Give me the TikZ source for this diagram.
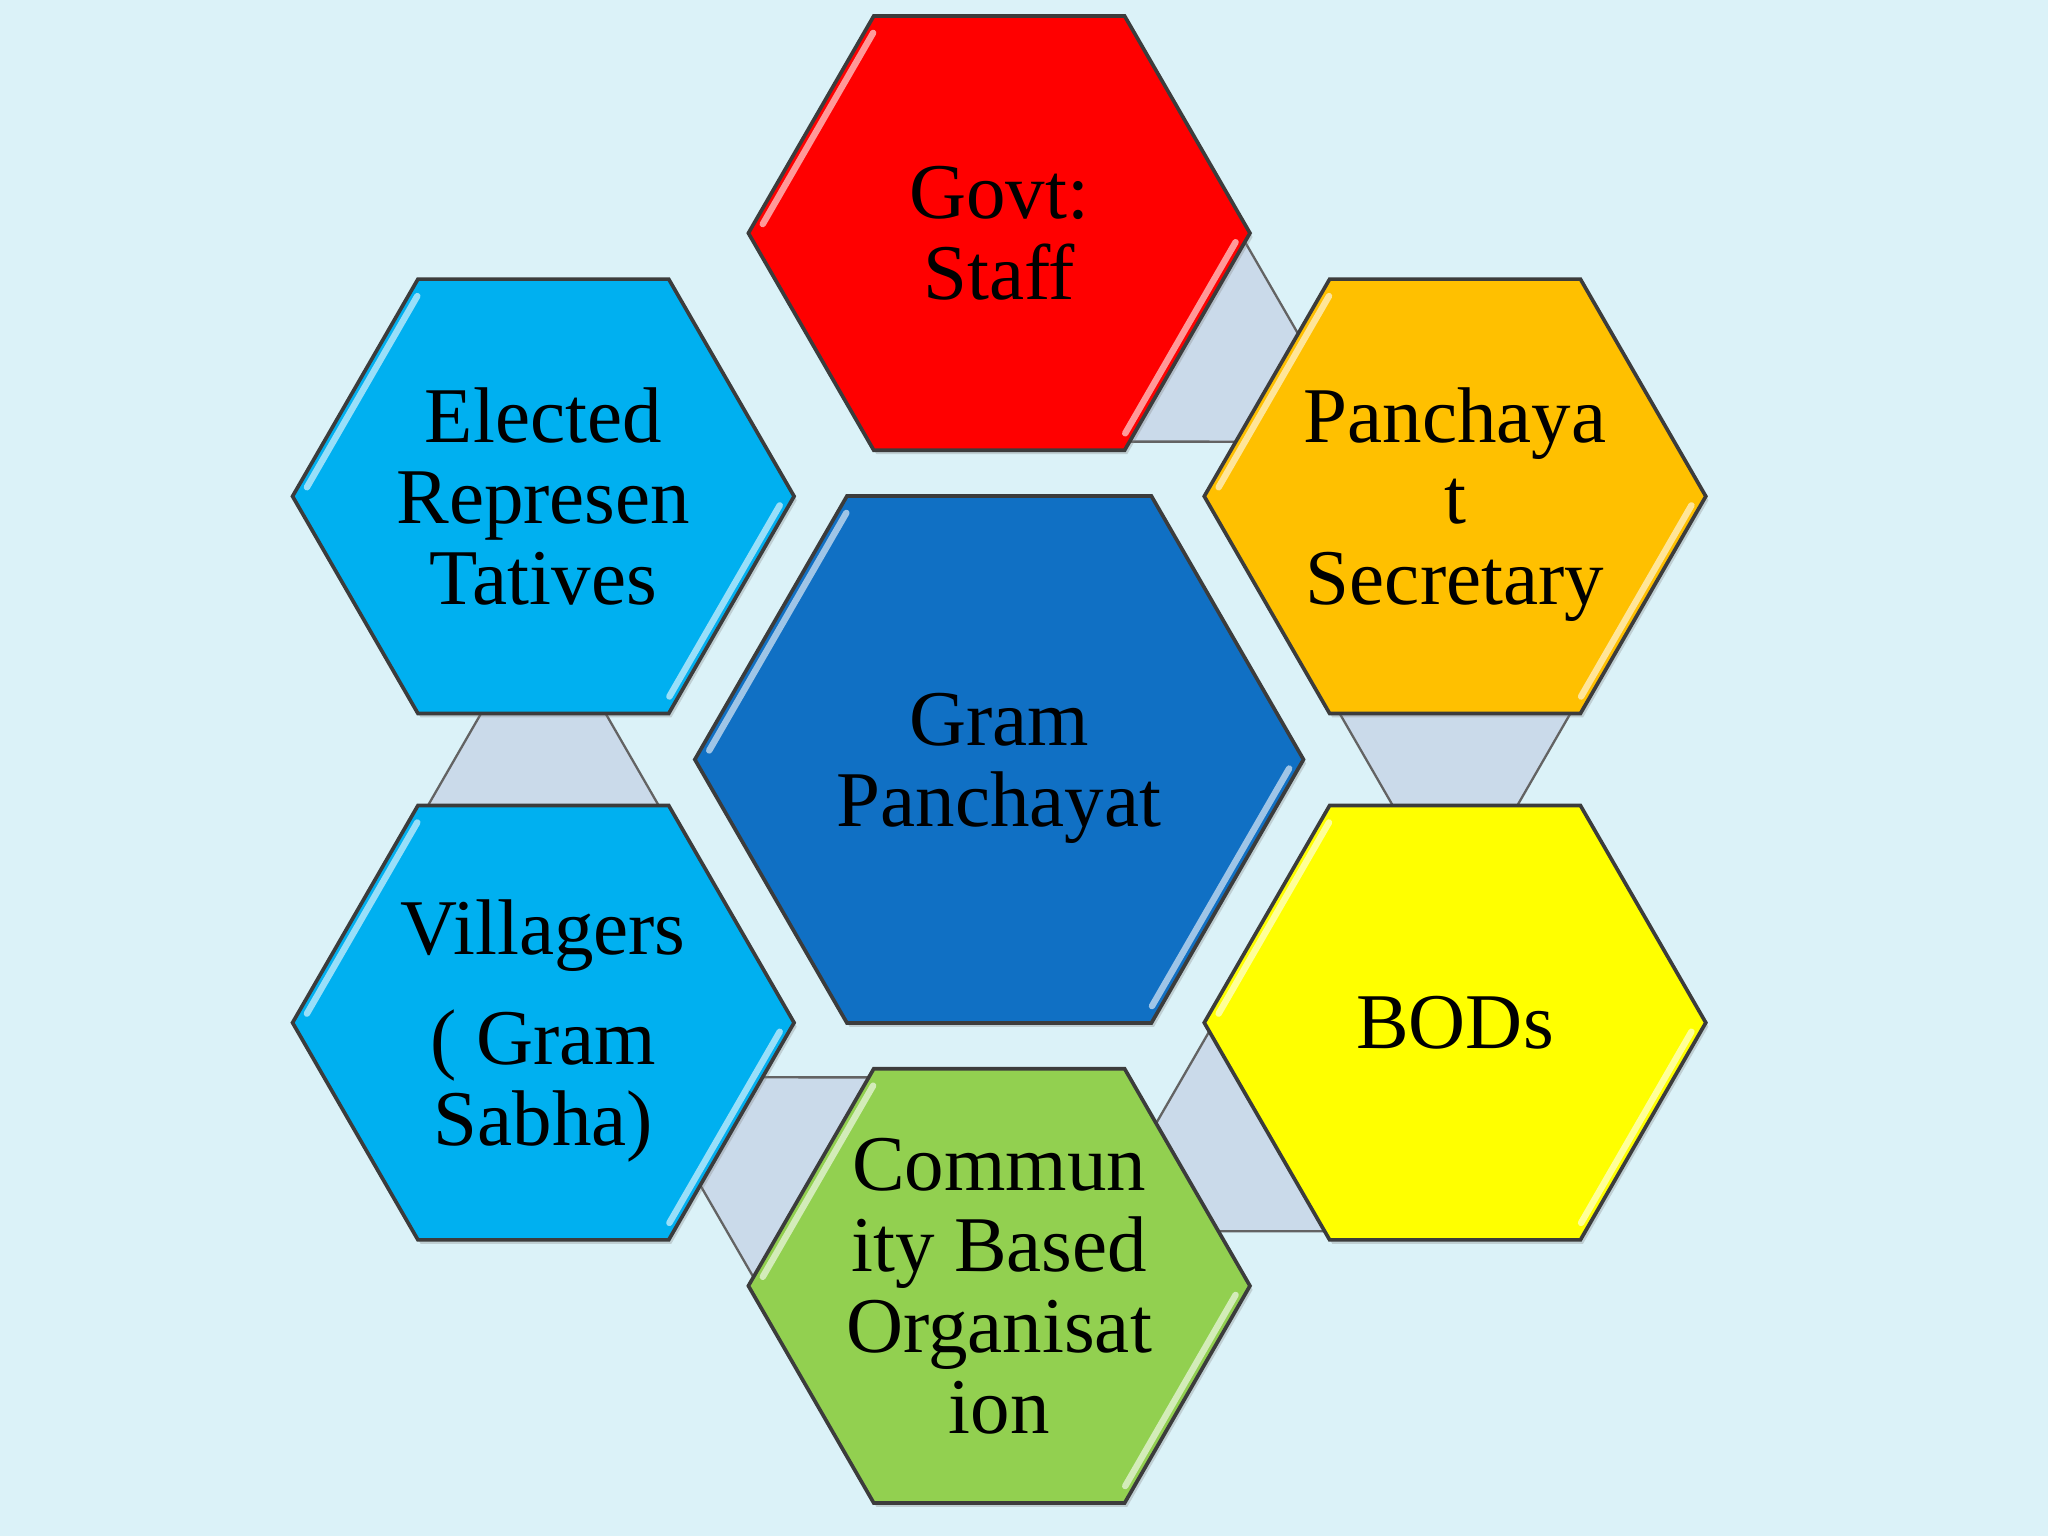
\documentclass[tikz,border=0pt]{standalone}
\usepackage{fontspec}
\setmainfont{Liberation Serif}
\usetikzlibrary{shapes.geometric, calc, shadows}
\definecolor{bgcol}{RGB}{219,242,248}
\definecolor{hexred}{RGB}{255,0,0}
\definecolor{hexgold}{RGB}{255,192,0}
\definecolor{hexyellow}{RGB}{255,255,0}
\definecolor{hexgreen}{RGB}{146,208,80}
\definecolor{hexsky}{RGB}{0,176,240}
\definecolor{hexblue}{RGB}{16,112,196}
\definecolor{linkfill}{RGB}{202,218,234}
\definecolor{edgegray}{RGB}{60,60,60}
\pgfdeclarelayer{back}
\pgfsetlayers{back,main}
\tikzset{
    hexa/.style={regular polygon, regular polygon sides=6, draw=edgegray, line width=0.8pt, inner sep=0pt, outer sep=0pt, minimum size=3.84cm, drop shadow={shadow xshift=0.02cm, shadow yshift=-0.03cm, opacity=0.3}}, % outer hexagons
    hexbig/.style={hexa, minimum size=4.66cm}, % centre hexagon
    txt/.style={align=center, font=\fontsize{17.2}{17.6}\selectfont, inner sep=0pt, text depth=0pt}, % hexagon text
    link/.style={fill=linkfill, draw=edgegray!80, line width=0.5pt}, % grey joints
    gloss/.style={white, opacity=0.6, line width=1.4pt, line cap=round} % light edge stripes
}
\begin{document}
\begin{tikzpicture}
    \def\ring{4.03}
    \begin{pgfonlayer}{back}
        \fill[bgcol] (-7.65,-5.945) rectangle (8.03,5.815);
    \end{pgfonlayer}
    \useasboundingbox (-7.65,-5.945) rectangle (8.03,5.815);

    \node[hexbig, fill=hexblue] (gp) at (0,0) {};
    \node[hexa, fill=hexred] (govt) at (90:\ring) {};
    \node[hexa, fill=hexgold] (sec) at (30:\ring) {};
    \node[hexa, fill=hexyellow] (bod) at (-30:\ring) {};
    \node[hexa, fill=hexgreen] (cbo) at (-90:\ring) {};
    \node[hexa, fill=hexsky] (vill) at (-150:\ring) {};
    \node[hexa, fill=hexsky] (elec) at (150:\ring) {};

    % stripes on upper left and lower right edges
    \foreach \n/\r in {gp/2.33, govt/1.92, sec/1.92, bod/1.92, cbo/1.92, vill/1.92, elec/1.92} {
        \draw[gloss] ($(\n)+(180:{\r-0.07})+(60:0.08)$) -- ($(\n)+(120:{\r-0.07})+(240:0.08)$);
        \draw[gloss] ($(\n)+(0:{\r-0.07})+(240:0.08)$) -- ($(\n)+(300:{\r-0.07})+(60:0.08)$);
    }

    \node[txt] (gp-t) at (gp) {Gram\\Panchayat};
    \node[txt] (govt-t) at (govt) {Govt:\\Staff};
    \node[txt] (sec-t) at (sec) {Panchaya\\t\\Secretary};
    \node[txt] (bod-t) at (bod) {BODs};
    \node[txt] (cbo-t) at (cbo) {Commun\\ity Based\\Organisat\\ion};
    \node[txt] (vill-t) at (vill) {Villagers\\[6.5pt]( Gram\\Sabha)};
    \node[txt] (elec-t) at (elec) {Elected\\Represen\\Tatives};

    % joints between neighbouring hexagons, behind them
    \begin{pgfonlayer}{back}
        \foreach \a/\b/\rot in {elec/vill/0, vill/cbo/60, cbo/bod/120, bod/sec/180, sec/govt/240}
            \draw[link, shift={($(\a)!0.5!(\b)$)}, rotate=\rot] (-0.334,0.6) -- (0.334,0.6) -- (1.026,-0.6) -- (-1.026,-0.6) -- cycle;
    \end{pgfonlayer}
\end{tikzpicture}
\end{document}
